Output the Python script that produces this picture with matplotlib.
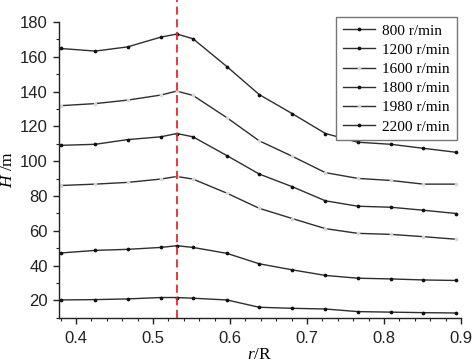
import matplotlib
matplotlib.use('Agg')
import matplotlib.pyplot as plt
from matplotlib.ticker import MultipleLocator

plt.rcParams['mathtext.fontset'] = 'custom'
plt.rcParams['mathtext.it'] = 'Liberation Serif:italic'
plt.rcParams['mathtext.rm'] = 'Liberation Serif'

# r/R positions of the measuring points
r_ratio = [0.380, 0.425, 0.467, 0.510, 0.531, 0.552, 0.596,
           0.638, 0.681, 0.724, 0.766, 0.809, 0.851, 0.894]

# head H (m) at each rotating speed
h_800 = [20.2, 20.4, 20.8, 21.6, 21.6, 21.2, 20.2,
         16.0, 15.4, 15.0, 13.5, 13.2, 12.9, 12.7]
h_1200 = [47.2, 48.7, 49.3, 50.4, 51.4, 50.4, 47.0,
          41.0, 37.5, 34.3, 32.7, 32.3, 31.7, 31.4]
h_1600 = [86.0, 86.8, 87.8, 89.7, 91.2, 89.7, 81.6,
          72.9, 67.0, 61.2, 58.5, 57.9, 56.6, 55.1]
h_1800 = [109.1, 109.7, 112.4, 114.0, 115.9, 114.0, 103.2,
          92.6, 85.3, 77.2, 74.1, 73.5, 71.8, 69.9]
h_1980 = [131.9, 133.1, 135.1, 138.0, 140.3, 137.8, 125.0,
          111.7, 102.8, 93.4, 90.1, 88.9, 86.8, 86.8]
h_2200 = [164.8, 163.3, 165.7, 171.3, 173.1, 170.4, 154.4,
          138.3, 127.3, 115.9, 110.9, 109.7, 107.4, 105.1]

speeds = ['800 r/min', '1200 r/min', '1600 r/min',
          '1800 r/min', '1980 r/min', '2200 r/min']
series = [h_800, h_1200, h_1600, h_1800, h_1980, h_2200]
marker_colors = ['#111111', '#111111', '#d8d8d8', '#111111', '#d8d8d8', '#111111']

design_r = 0.531

fig = plt.figure(figsize=(4.74, 3.63), dpi=100)
ax = fig.add_axes([0.1245, 0.1248, 0.848, 0.8145])

for name, h, mc in zip(speeds, series, marker_colors):
    ax.plot(r_ratio, h, color='#2e2e2e', lw=1.0, marker='o', ms=1.7,
            mfc=mc, mec=mc, label=name)

ax.axvline(design_r, ymin=0, ymax=1.074, color='#e8292c', lw=1.3,
           ls=(0, (4.5, 2.5)), clip_on=False, zorder=5)

ax.set_xlim(0.378, 0.9)
ax.set_ylim(10, 180)
ax.xaxis.set_major_locator(MultipleLocator(0.1))
ax.xaxis.set_minor_locator(MultipleLocator(0.02))
ax.yaxis.set_major_locator(MultipleLocator(20))
ax.yaxis.set_minor_locator(MultipleLocator(10))

for side in ('top', 'right'):
    ax.spines[side].set_visible(False)
for side in ('left', 'bottom'):
    ax.spines[side].set_linewidth(1.0)
    ax.spines[side].set_color('#222222')

ax.tick_params(which='major', direction='out', length=4.5, width=1.0,
               colors='#222222', labelsize=12)
ax.tick_params(axis='x', which='major', pad=5)
ax.tick_params(which='minor', direction='out', length=2.5, width=0.8,
               colors='#222222')
for lbl in ax.get_xticklabels() + ax.get_yticklabels():
    lbl.set_fontfamily('Liberation Sans')

ax.set_xlabel(r'$\it{r}$/R', fontfamily='Liberation Serif', fontsize=12.5,
              labelpad=1)
ax.set_ylabel(r'$\it{H}$ /m', fontfamily='Liberation Serif', fontsize=12.5,
              labelpad=3)

leg = ax.legend(loc='upper right', bbox_to_anchor=(0.989, 1.017),
                borderaxespad=0, fancybox=False, framealpha=1,
                edgecolor='#777777', handlelength=2.1, handletextpad=0.45,
                labelspacing=0.36, borderpad=0.45,
                prop={'family': 'Liberation Serif', 'size': 11})
leg.get_frame().set_linewidth(1.0)

fig.savefig('out.png', dpi=100)
